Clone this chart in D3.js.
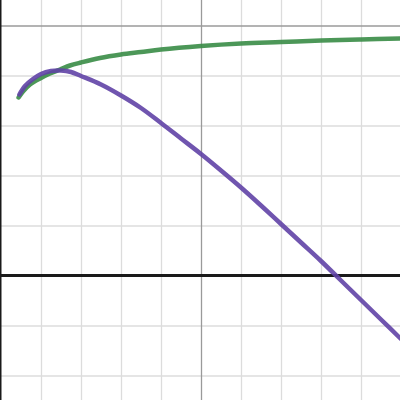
<!DOCTYPE html>
<html>
<head>
<meta charset="utf-8">
<script src="https://cdn.jsdelivr.net/npm/d3@7"></script>
<style>
  html, body { margin: 0; padding: 0; background: #fff; overflow: hidden; }
  svg { display: block; }
</style>
</head>
<body>
<div id="chart"></div>
<script>
// values (x, y in graph units)
const greenX = [0.44, 0.55, 0.725, 1.0, 1.225, 1.475, 1.725, 2.0, 2.475, 3.0, 3.5, 4.0, 5.0, 6.0, 7.0, 8.0, 9.0, 10.0];
const greenY = [3.56, 3.68, 3.82, 3.95, 4.04, 4.12, 4.20, 4.26, 4.35, 4.42, 4.47, 4.52, 4.59, 4.64, 4.67, 4.70, 4.72, 4.74];

const purpleX = [0.46, 0.6, 0.8, 1.0, 1.25, 1.5, 1.75, 2.0, 2.5, 3.0, 3.5, 4.0, 4.5, 5.0, 5.5, 6.0, 6.5, 7.0, 7.5, 8.0, 8.5, 9.0, 9.5, 10.0];
const purpleY = [3.62, 3.79, 3.93, 4.03, 4.09, 4.10, 4.07, 3.99, 3.82, 3.60, 3.35, 3.05, 2.74, 2.43, 2.10, 1.76, 1.40, 1.03, 0.66, 0.29, -0.10, -0.49, -0.88, -1.27];

const minorX = [1, 2, 3, 4, 6, 7, 8, 9];
const majorX = [5];
const minorY = [-2, -1, 1, 2, 3, 4];
const majorY = [5];

const W = 400, H = 400;

const x = d3.scaleLinear().domain([0, 10]).range([1, 401]);
const y = d3.scaleLinear().domain([-2.5, 5.5]).range([400.5, 0.5]);

const svg = d3.select("#chart").append("svg")
    .attr("width", W)
    .attr("height", H);

// grid lines
function vLines(vals, color) {
    svg.append("g")
        .call(d3.axisTop(x).tickValues(vals).tickSize(-H).tickFormat(""))
        .call(g => g.select(".domain").remove())
        .call(g => g.selectAll("line").attr("stroke", color).attr("stroke-width", 1.3));
}
function hLines(vals, color) {
    svg.append("g")
        .call(d3.axisLeft(y).tickValues(vals).tickSize(-W).tickFormat(""))
        .call(g => g.select(".domain").remove())
        .call(g => g.selectAll("line").attr("stroke", color).attr("stroke-width", 1.3));
}
vLines(minorX, "#dcdcdc");
hLines(minorY, "#dcdcdc");
vLines(majorX, "#9a9a9a");
hLines(majorY, "#9a9a9a");

// axes (y axis sits right at the left edge)
svg.append("line")
    .attr("x1", 0).attr("x2", W)
    .attr("y1", y(0)).attr("y2", y(0))
    .attr("stroke", "#1a1a1a").attr("stroke-width", 3);
svg.append("line")
    .attr("x1", x(0) - 1).attr("x2", x(0) - 1)
    .attr("y1", 0).attr("y2", H)
    .attr("stroke", "#1a1a1a").attr("stroke-width", 3);

// curves
const line = d3.line()
    .x(d => x(d[0]))
    .y(d => y(d[1]))
    .curve(d3.curveCatmullRom);

function drawCurve(xs, ys, color) {
    svg.append("path")
        .datum(xs.map((v, i) => [v, ys[i]]))
        .attr("d", line)
        .attr("fill", "none")
        .attr("stroke", color)
        .attr("stroke-opacity", 0.9)
        .attr("stroke-width", 4.5)
        .attr("stroke-linecap", "round")
        .attr("stroke-linejoin", "round");
}
drawCurve(greenX, greenY, "#388c46");
drawCurve(purpleX, purpleY, "#6042a6");
</script>
</body>
</html>
